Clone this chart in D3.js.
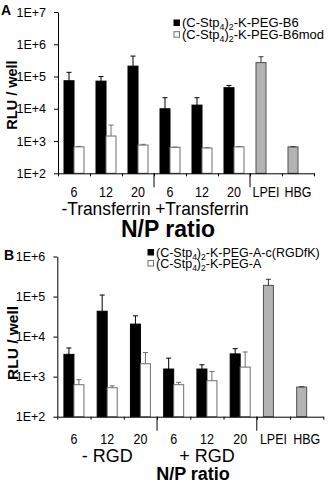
<!DOCTYPE html>
<html>
<head>
<meta charset="utf-8">
<script src="https://cdn.jsdelivr.net/npm/d3@7"></script>
<style>
  body { margin: 0; background: #fff; }
  text { font-family: Arial, "Liberation Sans", sans-serif; fill: #000; }
</style>
</head>
<body>
<svg id="chart" width="333" height="483"></svg>
<script>
// categories on the x axis (same for both panels)
const categories = ["6", "12", "20", "6", "12", "20", "LPEI", "HBG"];

// panel A: mean and SD (RLU / well)
const groupsA = ["-Transferrin", "+Transferrin"];
const legendA = ["(C-Stp_4)_2-K-PEG-B6", "(C-Stp_4)_2-K-PEG-B6mod"];
const b6Mean = [7.4e4, 7.2e4, 2.1e5, 1.0e4, 1.3e4, 4.5e4];
const b6Sd = [6.1e4, 2.8e4, 2.2e5, 1.2e4, 9e3, 8e3];
const b6modMean = [660, 1430, 750, 640, 610, 660];
const b6modSd = [20, 1700, 40, 10, 10, 15];
const ctrlAMean = [2.7e5, 660];
const ctrlASd = [1.4e5, 10];

// panel B
const groupsB = ["- RGD", "+ RGD"];
const legendB = ["(C-Stp_4)_2-K-PEG-A-c(RGDfK)", "(C-Stp_4)_2-K-PEG-A"];
const rgdMean = [3600, 4.3e4, 2.05e4, 1550, 1550, 3700];
const rgdSd = [1600, 6.6e4, 1.25e4, 1350, 430, 1300];
const pegAMean = [630, 530, 2100, 630, 790, 1730];
const pegASd = [210, 60, 1900, 90, 560, 2400];
const ctrlBMean = [1.9e5, 550];
const ctrlBSd = [8e4, 10];

const svg = d3.select("#chart");

// "_4" -> subscript 4
function richText(sel, str) {
  let shift = 0;
  str.split(/(_.)/).forEach(p => {
    if (!p) return;
    if (p[0] === "_") {
      sel.append("tspan").attr("dy", 3 - shift).attr("font-size", "0.68em").text(p[1]);
      shift = 3;
    } else {
      sel.append("tspan").attr("dy", -shift).text(p);
      shift = 0;
    }
  });
}

function panel(cfg) {
  const g = svg.append("g");
  const x = d3.scaleLinear().domain([0, categories.length]).range([cfg.x0, cfg.x1]);
  const y = d3.scaleLog().domain([1e2, cfg.top]).range([cfg.y0, cfg.y1]);
  const catW = x(1) - x(0);
  const bw = 10;
  const off = (catW - 2 * bw) / 2;

  // y axis
  const decades = d3.range(2, Math.round(Math.log10(cfg.top)) + 1).map(e => Math.pow(10, e));
  const ya = g.append("g")
      .attr("transform", `translate(${cfg.x0},0)`)
      .call(d3.axisLeft(y).tickValues(decades)
        .tickFormat(d => "1E+" + Math.round(Math.log10(d)))
        .tickSize(4).tickSizeOuter(0).tickPadding(8));
  ya.selectAll("text").attr("font-size", 12.5).attr("font-family", "Arial, 'Liberation Sans', sans-serif");
  ya.selectAll("line, path").attr("stroke", "#000");

  // bars
  const bars = [];
  cfg.s1Mean.forEach((m, i) => bars.push({ i, k: 0, m, s: cfg.s1Sd[i], fill: "#000", stroke: "#000", err: "#000" }));
  cfg.s2Mean.forEach((m, i) => bars.push({ i, k: 1, m, s: cfg.s2Sd[i], fill: "#fff", stroke: "#6e6e6e", err: "#6e6e6e" }));
  cfg.ctrlMean.forEach((m, j) => bars.push({ i: 6 + j, k: 0, m, s: cfg.ctrlSd[j], fill: "#b3b3b3", stroke: "#505050", err: "#333" }));

  g.selectAll("rect.bar").data(bars).enter().append("rect")
      .attr("class", "bar")
      .attr("x", d => x(d.i) + off + d.k * bw)
      .attr("y", d => y(d.m))
      .attr("width", bw)
      .attr("height", d => cfg.y0 - y(d.m))
      .attr("fill", d => d.fill)
      .attr("stroke", d => d.stroke)
      .attr("stroke-width", 1);

  // error bars (upper only)
  const eb = g.selectAll("g.err").data(bars).enter().append("g").attr("class", "err")
      .attr("stroke", d => d.err).attr("stroke-width", 1);
  eb.append("line")
      .attr("x1", d => x(d.i) + off + d.k * bw + bw / 2)
      .attr("x2", d => x(d.i) + off + d.k * bw + bw / 2)
      .attr("y1", d => y(d.m))
      .attr("y2", d => y(d.m + d.s));
  eb.append("line")
      .attr("x1", d => x(d.i) + off + d.k * bw + bw / 2 - 2.5)
      .attr("x2", d => x(d.i) + off + d.k * bw + bw / 2 + 2.5)
      .attr("y1", d => y(d.m + d.s))
      .attr("y2", d => y(d.m + d.s));

  // x axis
  const xa = g.append("g")
      .attr("transform", `translate(0,${cfg.y0})`)
      .call(d3.axisBottom(x).tickValues(d3.range(categories.length + 1))
        .tickFormat("").tickSize(3).tickSizeOuter(0));
  xa.selectAll("line, path").attr("stroke", "#000");
  // group separators
  g.selectAll("line.sep").data([3, 6]).enter().append("line")
      .attr("x1", d => x(d)).attr("x2", d => x(d))
      .attr("y1", cfg.y0).attr("y2", cfg.y0 + 14)
      .attr("stroke", "#000");

  // category labels
  g.selectAll("text.cat").data(categories).enter().append("text")
      .attr("transform", (d, i) => `translate(${x(i + 0.5)},${cfg.y0 + cfg.catDy}) scale(1,1.12)`)
      .attr("text-anchor", "middle")
      .attr("font-size", 12.5)
      .text(d => d);

  // group labels
  g.selectAll("text.grp").data(cfg.groups).enter().append("text")
      .attr("transform", (d, i) => `translate(${x(i * 3 + 1.5)},${cfg.y0 + cfg.grpDy}) scale(1,${cfg.grpSy})`)
      .attr("text-anchor", "middle")
      .attr("font-size", cfg.grpSize)
      .text(d => d);

  // x title
  g.append("text")
      .attr("x", cfg.xtX).attr("y", cfg.y0 + cfg.xtDy)
      .attr("text-anchor", "middle")
      .attr("font-size", cfg.xtSize).attr("font-weight", "bold")
      .text("N/P ratio");

  // y title
  g.append("text")
      .attr("transform", `translate(${cfg.ytX},${cfg.ytY}) rotate(-90)`)
      .attr("text-anchor", "middle")
      .attr("font-size", cfg.ytSize).attr("font-weight", "bold")
      .text("RLU / well");

  // panel letter
  g.append("text")
      .attr("x", cfg.letterX).attr("y", cfg.letterY)
      .attr("font-size", 14).attr("font-weight", "bold")
      .text(cfg.letter);

  // legend
  const lg = g.selectAll("g.leg").data(cfg.legend).enter().append("g")
      .attr("transform", (d, i) => `translate(${cfg.legX},${cfg.legY + i * cfg.legStep})`);
  lg.append("rect")
      .attr("x", 0).attr("y", -3).attr("width", 5.5).attr("height", 5.5)
      .attr("fill", (d, i) => i === 0 ? "#000" : "#fff")
      .attr("stroke", (d, i) => i === 0 ? "#000" : "#6e6e6e");
  lg.append("text")
      .attr("x", 8).attr("y", 4)
      .attr("font-size", cfg.legSize)
      .each(function (d) { richText(d3.select(this), d); });
}

panel({
  letter: "A", letterX: 1, letterY: 15,
  x0: 58, x1: 314, y0: 173.3, y1: 12, top: 1e7,
  s1Mean: b6Mean, s1Sd: b6Sd, s2Mean: b6modMean, s2Sd: b6modSd,
  ctrlMean: ctrlAMean, ctrlSd: ctrlASd,
  groups: groupsA, grpSize: 17.4, grpDy: 42, grpSy: 1.1,
  catDy: 24,
  xtX: 168, xtDy: 63.5, xtSize: 23,
  ytX: 17, ytY: 95, ytSize: 14.5,
  legend: legendA, legX: 174, legY: 23, legStep: 11.7, legSize: 13
});

panel({
  letter: "B", letterX: 4, letterY: 260,
  x0: 57.3, x1: 323.3, y0: 416.7, y1: 256.5, top: 1e6,
  s1Mean: rgdMean, s1Sd: rgdSd, s2Mean: pegAMean, s2Sd: pegASd,
  ctrlMean: ctrlBMean, ctrlSd: ctrlBSd,
  groups: groupsB, grpSize: 18, grpDy: 45, grpSy: 1.0,
  catDy: 27,
  xtX: 193, xtDy: 63.5, xtSize: 18,
  ytX: 18, ytY: 343, ytSize: 15.5,
  legend: legendB, legX: 148, legY: 252.5, legStep: 11, legSize: 12.5
});
</script>
</body>
</html>
